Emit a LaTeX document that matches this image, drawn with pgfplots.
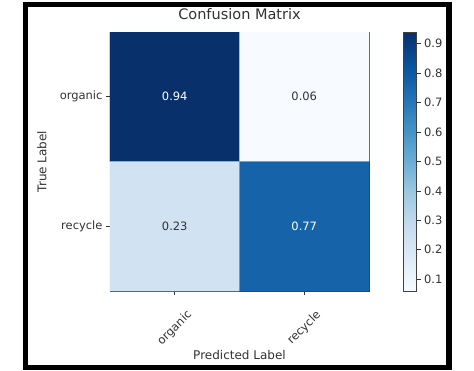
\documentclass[border=0pt]{standalone}
\usepackage{fontspec}
\setmainfont{DejaVu Sans}
\usepackage{pgfplots}
\pgfplotsset{compat=1.18}
\definecolor{txt}{RGB}{50,50,50}
\pgfplotsset{
  colormap={blues}{rgb255(0cm)=(247,251,255); rgb255(1cm)=(222,235,247); rgb255(2cm)=(198,219,239);
    rgb255(3cm)=(158,202,225); rgb255(4cm)=(107,174,214); rgb255(5cm)=(66,146,198);
    rgb255(6cm)=(33,113,181); rgb255(7cm)=(8,81,156); rgb255(8cm)=(8,48,107)}
}
\newcommand{\tfont}{\fontsize{11.5}{13}\selectfont}
\begin{document}
\begin{tikzpicture}[x=1pt,y=1pt]
\useasboundingbox (0,0) rectangle (474,370);
\fill[white] (0,0) rectangle (474,370);
\draw[line width=5.5pt] (25.5,365.5) rectangle (449,2.5);
\begin{axis}[
  at={(110pt,79pt)}, anchor=south west,
  scale only axis, width=259pt, height=259pt,
  colormap name=blues,
  point meta min=0.06, point meta max=0.94,
  xmin=-0.5, xmax=1.5, ymin=-0.5, ymax=1.5,
  y dir=reverse,
  xtick={0,1}, xticklabels={organic,recycle},
  ytick={0,1}, yticklabels={organic,recycle},
  tick align=outside, major tick length=4pt,
  xtick pos=bottom, ytick pos=left,
  tick style={txt, line width=0.7pt},
  axis line style={black!75, line width=0.7pt},
  ticklabel style={font=\tfont, text=txt},
  xticklabel style={yshift=-33pt, rotate=45, anchor=center},
  title={Confusion Matrix},
  title style={at={(axis description cs:0.5,1.027)}, anchor=base, font=\fontsize{14.5}{16}\selectfont, text=txt},
  xlabel={Predicted Label},
  xlabel style={at={(axis description cs:0.5,-0.266)}, anchor=base, font=\fontsize{12}{14}\selectfont, text=txt},
  ylabel={True Label},
  ylabel style={at={(axis description cs:-0.2625,0.5)}, anchor=center, font=\fontsize{12}{14}\selectfont, text=txt},
  colorbar,
  colorbar style={
    at={(parent axis.north east)}, anchor=north west, xshift=26pt,
    width=13pt,
    ytick={0.1,0.2,0.3,0.4,0.5,0.6,0.7,0.8,0.9},
    ytick pos=right, xtick=\empty,
    yticklabel style={font=\tfont, text=txt, /pgf/number format/assume math mode=true, /pgf/number format/fixed, /pgf/number format/precision=1},
    tick align=outside, major tick length=4pt,
    tick style={txt, line width=0.7pt},
    axis line style={black!75, line width=0.7pt},
  },
]
\addplot[matrix plot*, mesh/cols=2, point meta=explicit] coordinates {
  (0,0) [0.94] (1,0) [0.06]
  (0,1) [0.23] (1,1) [0.77]
};
\addplot[only marks, mark=none, nodes near coords, point meta=explicit symbolic,
  nodes near coords align={center},
  every node near coord/.append style={font=\tfont, text=white, anchor=center}] coordinates {
  (0,0) [0.94] (1,1) [0.77]
};
\addplot[only marks, mark=none, nodes near coords, point meta=explicit symbolic,
  nodes near coords align={center},
  every node near coord/.append style={font=\tfont, text=txt, anchor=center}] coordinates {
  (1,0) [0.06] (0,1) [0.23]
};
\end{axis}
\end{tikzpicture}
\end{document}
